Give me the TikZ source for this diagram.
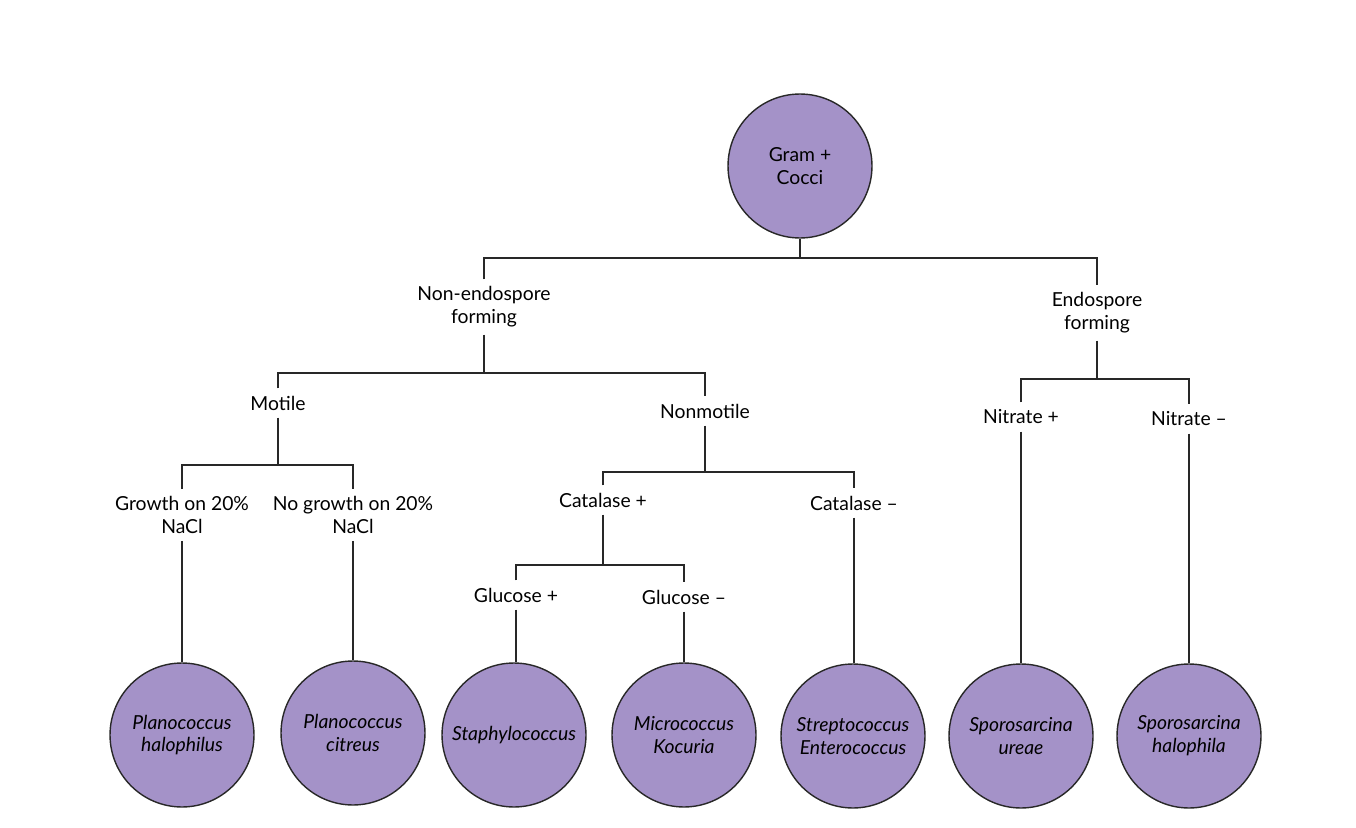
\documentclass[tikz,border=0pt]{standalone}
\usepackage{fontspec}
\setmainfont{Lato}
\definecolor{cellpurple}{RGB}{164,146,200}
\definecolor{inkline}{RGB}{40,40,40}

\begin{document}
\begin{tikzpicture}[x=0.02cm,y=-0.02cm,
  taxon/.style={circle,draw=inkline,line width=0.8pt,fill=cellpurple,minimum size=2.88cm,inner sep=0pt,align=center,font=\fontsize{11}{13}\selectfont\itshape},
  test/.style={align=center,inner sep=4pt,font=\fontsize{11}{13}\selectfont},
  branch/.style={draw=inkline,line width=0.7pt}]
\useasboundingbox (0,0) rectangle (1356,828);
% root
\node[taxon,font=\fontsize{11}{13}\selectfont] (gram) at (800,166) {Gram +\\Cocci};
\node[test] (nonendo) at (484,307) {Non-endospore\\forming};
\node[test] (endo) at (1097,313) {Endospore\\forming};
\coordinate (j1) at (800,258);
\draw[branch] (gram.south) -- (j1);
\draw[branch] (nonendo.north) |- (j1) -| (endo.north);
% non-endospore forming
\node[test] (motile) at (278,403) {Motile};
\node[test] (nonmotile) at (705,411) {Nonmotile};
\coordinate (j2) at (484,373);
\draw[branch] (nonendo.south) -- (j2);
\draw[branch] (motile.north) |- (j2) -| (nonmotile.north);
% motile
\node[test] (growth) at (182,515) {Growth on 20\%\\NaCl};
\node[test] (nogrowth) at (353,515) {No growth on 20\%\\NaCl};
\coordinate (j3) at (278,465);
\draw[branch] (motile.south) -- (j3);
\draw[branch] (growth.north) |- (j3) -| (nogrowth.north);
% nonmotile
\node[test] (catpos) at (603,500) {Catalase +};
\node[test] (catneg) at (854,503) {Catalase --};
\coordinate (j4) at (705,472);
\draw[branch] (nonmotile.south) -- (j4);
\draw[branch] (catpos.north) |- (j4) -| (catneg.north);
% catalase +
\node[test] (glupos) at (516,595) {Glucose +};
\node[test] (gluneg) at (684,597) {Glucose --};
\coordinate (j5) at (603,565);
\draw[branch] (catpos.south) -- (j5);
\draw[branch] (glupos.north) |- (j5) -| (gluneg.north);
% endospore forming
\node[test] (nitpos) at (1021,417) {Nitrate +};
\node[test] (nitneg) at (1189,419) {Nitrate --};
\coordinate (j6) at (1097,379);
\draw[branch] (endo.south) -- (j6);
\draw[branch] (nitpos.north) |- (j6) -| (nitneg.north);
% genera
\node[taxon] (phalo) at (182,735) {Planococcus\\halophilus};
\node[taxon] (pcitr) at (353,733) {Planococcus\\citreus};
\node[taxon] (staph) at (514,735) {Staphylococcus};
\node[taxon] (micro) at (684,735) {Micrococcus\\Kocuria};
\node[taxon] (strep) at (853,736) {Streptococcus\\Enterococcus};
\node[taxon] (sureae) at (1021,736) {Sporosarcina\\ureae};
\node[taxon] (shalo) at (1189,736) {Sporosarcina\\halophila};
\draw[branch] (growth.south) -- (growth.south |- phalo.north);
\draw[branch] (nogrowth.south) -- (nogrowth.south |- pcitr.north);
\draw[branch] (glupos.south) -- (glupos.south |- staph.north);
\draw[branch] (gluneg.south) -- (gluneg.south |- micro.north);
\draw[branch] (catneg.south) -- (catneg.south |- strep.north);
\draw[branch] (nitpos.south) -- (nitpos.south |- sureae.north);
\draw[branch] (nitneg.south) -- (nitneg.south |- shalo.north);
\end{tikzpicture}
\end{document}
